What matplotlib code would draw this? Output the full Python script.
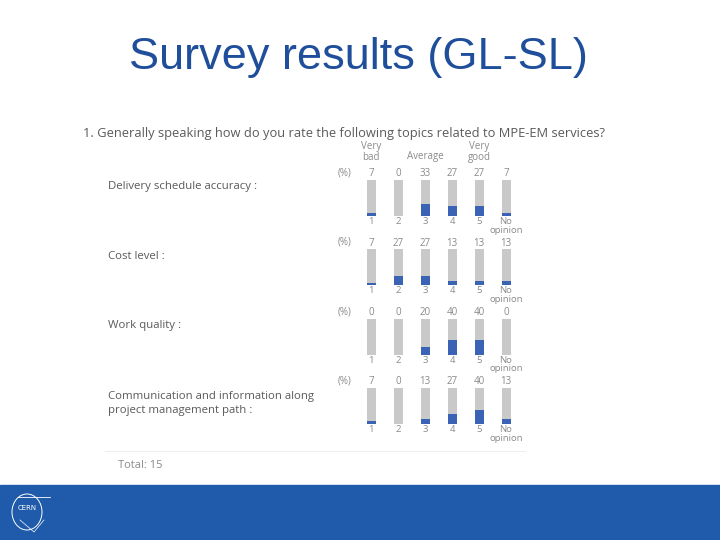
import matplotlib
matplotlib.use('Agg')
import matplotlib.pyplot as plt
from matplotlib.patches import Rectangle, Ellipse

# survey data (%)
topics = ['Delivery schedule accuracy :', 'Cost level :', 'Work quality :',
          'Communication and information along\nproject management path :']
delivery = [7, 0, 33, 27, 27, 7]
cost = [7, 27, 27, 13, 13, 13]
work = [0, 0, 20, 40, 40, 0]
comm = [7, 0, 13, 27, 40, 13]
series = [delivery, cost, work, comm]
choices = ['1', '2', '3', '4', '5', 'No\nopinion']
total = 15

BLUE = '#3a62b5'
GRAY = '#c9c9c9'
TXT = '#5a5a5a'
LIGHT = '#8a8a8a'

fig = plt.figure(figsize=(7.2, 5.4), dpi=100)
ax = fig.add_axes([0, 0, 1, 1])
ax.set_xlim(0, 720)
ax.set_ylim(540, 0)
ax.axis('off')

# title
ax.text(358, 58, 'Survey results (GL-SL)', ha='center', va='center',
        fontsize=32.5, color='#1f4e9a', family='Liberation Sans')

# question
ax.text(83, 133, '1. Generally speaking how do you rate the following topics related to MPE-EM services?',
        ha='left', va='center', fontsize=9.25, color=TXT, family='Open Sans')

x0 = 371
dx = 27
bw = 9
full = 36  # px for 100 %

ax.text(x0, 152, 'Very\nbad', ha='center', va='center', fontsize=7, color=LIGHT,
        family='Open Sans', linespacing=0.9)
ax.text(x0 + 2 * dx, 156, 'Average', ha='center', va='center', fontsize=7, color=LIGHT,
        family='Open Sans')
ax.text(x0 + 4 * dx, 152, 'Very\ngood', ha='center', va='center', fontsize=7, color=LIGHT,
        family='Open Sans', linespacing=0.9)

for g, (topic, vals) in enumerate(zip(topics, series)):
    top = 180 + g * 69.3
    bot = top + full
    nl = topic.count('\n')
    ty = top + 7 if nl == 0 else top + 16
    ax.text(108, ty, topic, ha='left', va='center', fontsize=8.2, color=TXT,
            family='Open Sans', linespacing=1.4)
    ax.text(345, top - 7, '(%)', ha='center', va='center', fontsize=7, color=LIGHT,
            family='Open Sans')
    xs = [x0 + i * dx for i in range(len(vals))]
    ax.bar(xs, [full] * len(vals), bottom=top, width=bw, color=GRAY)
    ax.bar(xs, [-v * full / 100 for v in vals], bottom=bot, width=bw, color=BLUE)
    for x, v, c in zip(xs, vals, choices):
        ax.text(x, top - 6, str(v), ha='center', va='center', fontsize=7, color=LIGHT,
                family='Open Sans')
        ax.text(x, bot + 1, c, ha='center', va='top', fontsize=6.8, color=LIGHT,
                family='Open Sans', linespacing=0.95)

ax.plot([105, 525], [451, 451], color='#eeeeee', lw=0.8)
ax.text(118, 465, 'Total: %d' % total, ha='left', va='center', fontsize=8, color=LIGHT,
        family='Open Sans')

# footer band
ax.add_patch(Rectangle((0, 485), 720, 55, color='#1f5aab', zorder=1))
ax.add_patch(Ellipse((27, 512), 30, 36, fill=False, ec='white', lw=0.7, zorder=2))
ax.text(27, 508, 'CERN', ha='center', va='center', fontsize=5, color='white', zorder=3)
ax.plot([18, 50], [497, 497], color='white', lw=0.6, zorder=3)
ax.plot([20, 34, 44], [520, 532, 520], color='white', lw=0.5, zorder=3)

fig.savefig('out.png', dpi=100)
